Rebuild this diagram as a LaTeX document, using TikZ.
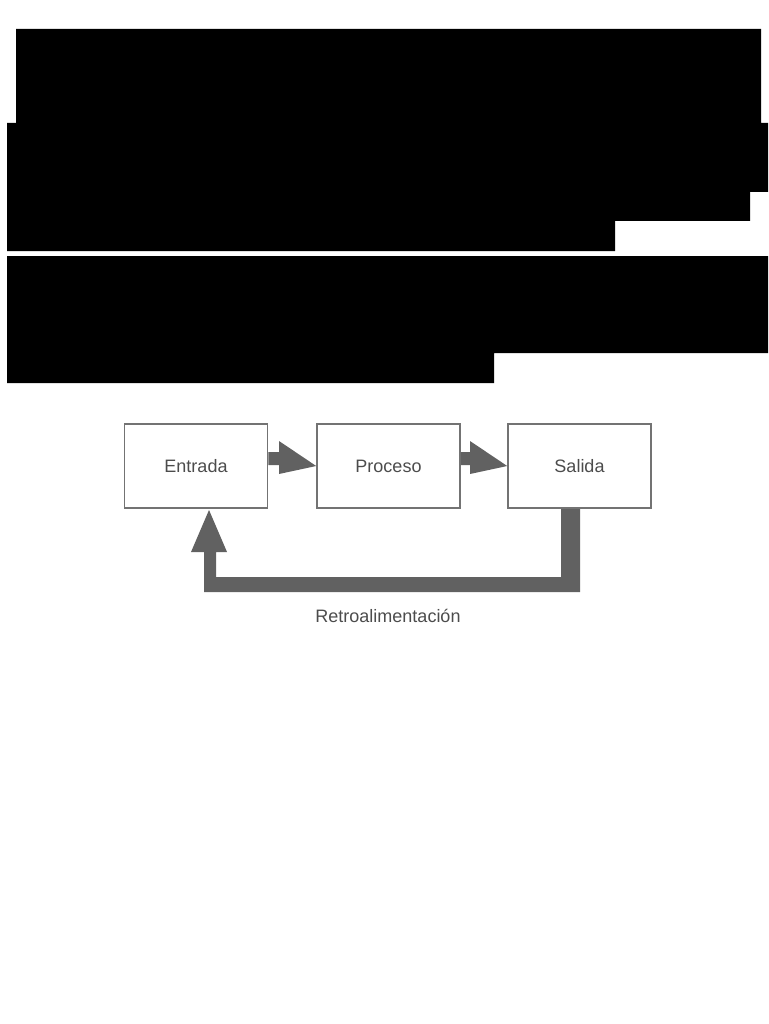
\documentclass[tikz,border=0pt]{standalone}
\usepackage{fontspec}
\setmainfont{Liberation Sans}
\begin{document}
\begin{tikzpicture}[x=1pt,y=-1pt,
  box/.style={draw=gray!90!black,line width=1.6pt,minimum width=143pt,minimum height=84pt,font=\fontsize{18}{20}\selectfont,text=black!70,inner sep=0pt},
  thick arrow/.style={fill=black!62}]
\useasboundingbox (0,0) rectangle (768,1024);
\fill (16,29)--(761,29)--(761,123)--(768,123)--(768,192)--(750,192)--(750,221)--(615,221)--(615,251)--(7,251)--(7,123)--(16,123)--cycle;
\fill (7,256)--(768,256)--(768,353)--(494,353)--(494,383)--(7,383)--cycle;
\node[box] (e) at (196,466) {Entrada};
\node[box] (p) at (388.5,466) {Proceso};
\node[box] (s) at (579.5,466) {Salida};
\fill[thick arrow] (e.east|-0,452) -- (279,452) -- (279,441) -- (p.west) -- (279,474) -- (279,465) -- (e.east|-0,465) -- cycle;
\fill[thick arrow] (p.east|-0,452) -- (470,452) -- (470,441) -- (s.west) -- (470,474) -- (470,465) -- (p.east|-0,465) -- cycle;
\fill[thick arrow] (561,509) -- (580,509) -- (580,592) -- (204,592) -- (204,552) -- (191,552) -- (209,510) -- (227,552) -- (216,552) -- (216,577) -- (561,577) -- cycle;
\node[font=\fontsize{18}{20}\selectfont,text=black!70] (r) at (388,616) {Retroalimentación};
\end{tikzpicture}
\end{document}
